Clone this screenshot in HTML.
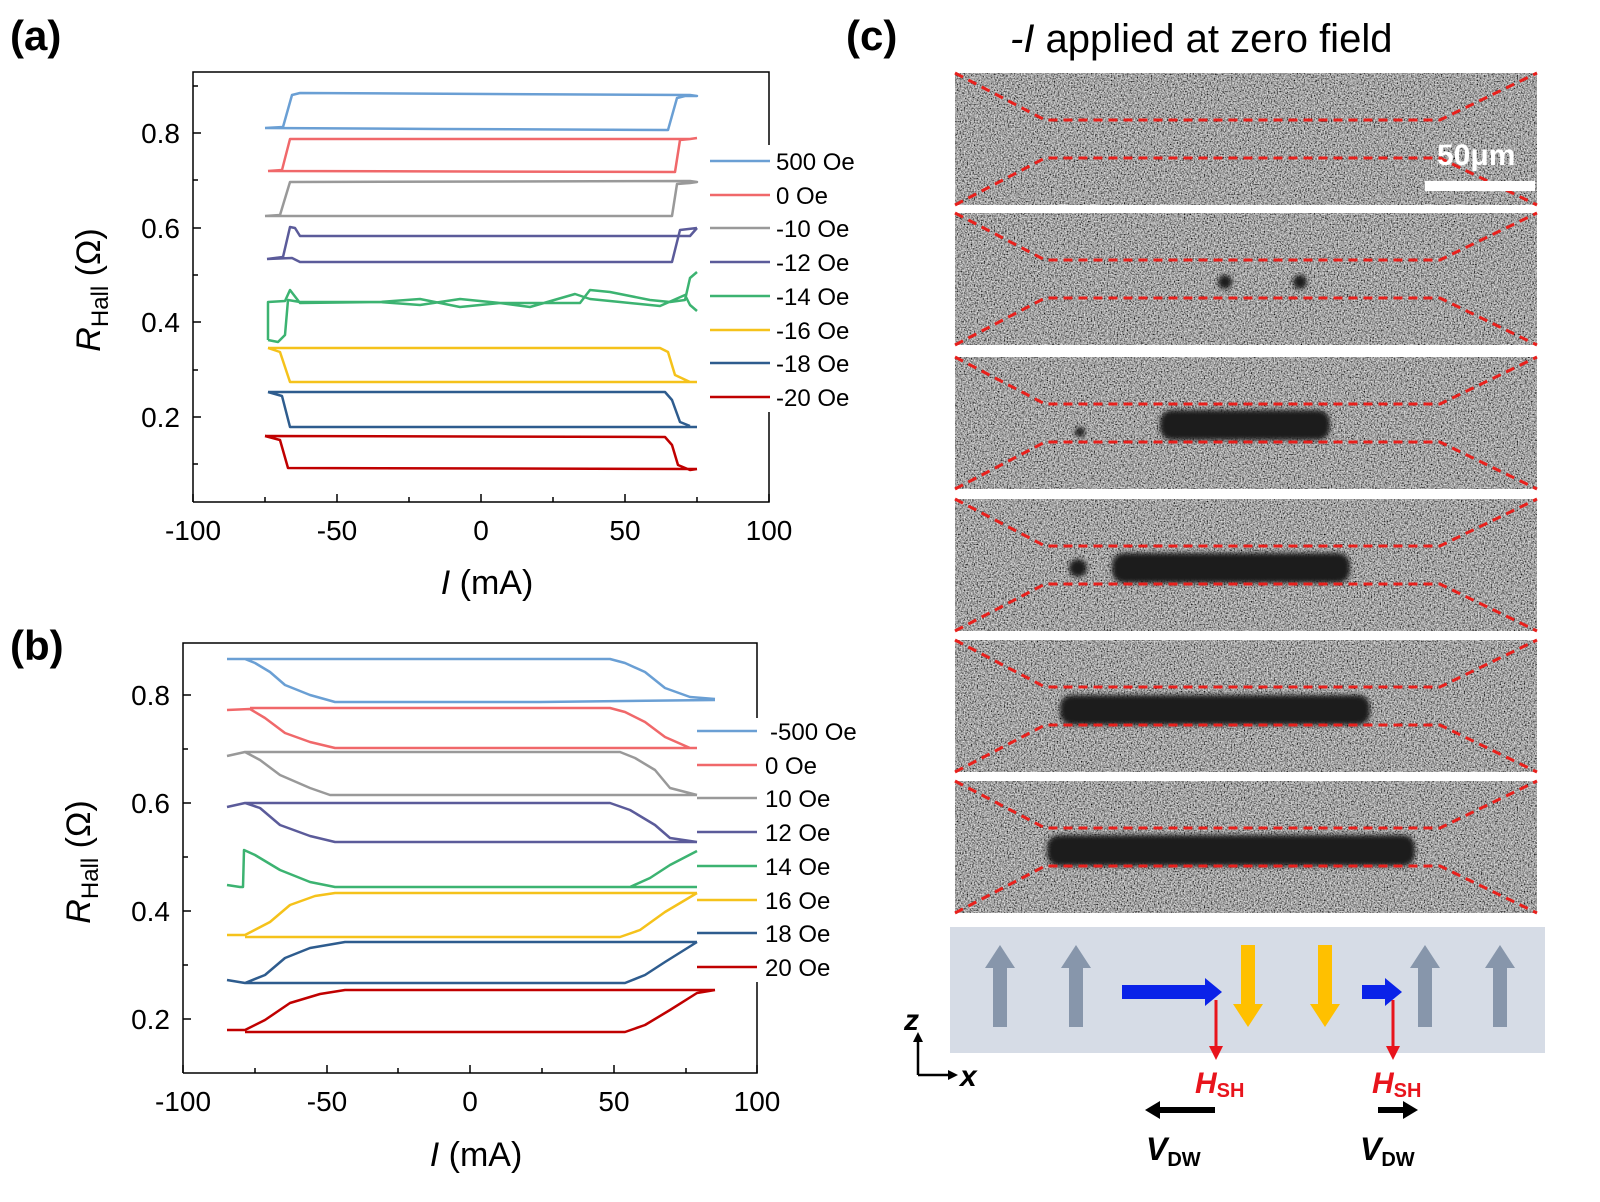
<!DOCTYPE html>
<html><head><meta charset="utf-8"><style>
html,body{margin:0;padding:0;background:#fff;}
svg{display:block;font-family:"Liberation Sans",Arial,sans-serif;}
</style></head><body>
<svg width="1600" height="1202" viewBox="0 0 1600 1202" xmlns="http://www.w3.org/2000/svg">
<defs>
<filter id="nz" x="0" y="0" width="100%" height="100%">
<feTurbulence type="fractalNoise" baseFrequency="0.7" numOctaves="2" seed="3"/>
<feColorMatrix type="matrix" values="1.4 0 0 0 -0.33  1.4 0 0 0 -0.33  1.4 0 0 0 -0.33  0 0 0 0 1"/>
</filter>
<filter id="bl"><feGaussianBlur stdDeviation="2.5"/></filter>
<g id="trap" fill="none" stroke="#e8201c" stroke-width="3" stroke-dasharray="9,6">
<path d="M0,0 L90,47 L485,47 L582,0 M0,132 L90,85 L485,85 L582,132"/>
</g>
</defs>

<text x="10" y="50" font-size="42" font-weight="bold">(a)</text>
<text x="10" y="660" font-size="42" font-weight="bold">(b)</text>
<text x="846" y="50" font-size="42" font-weight="bold">(c)</text>

<!-- ===== Panel A ===== -->
<g fill="none" stroke="#000" stroke-width="1.5">
<path d="M193,502 V72 H769 V145 M769,412 V502 H193"/>
<path d="M193,133 h8 M193,228 h8 M193,322 h8 M193,417 h8 M193,180 h5 M193,275 h5 M193,370 h5 M193,464 h5 M193,86 h5"/>
<path d="M193,502 v-8 M337,502 v-8 M481,502 v-8 M625,502 v-8 M769,502 v-8 M265,502 v-5 M409,502 v-5 M553,502 v-5 M697,502 v-5"/>
</g>
<g font-size="28" text-anchor="end">
<text x="180" y="143">0.8</text><text x="180" y="238">0.6</text><text x="180" y="332">0.4</text><text x="180" y="427">0.2</text>
</g>
<g font-size="28" text-anchor="middle">
<text x="193" y="540">-100</text><text x="337" y="540">-50</text><text x="481" y="540">0</text><text x="625" y="540">50</text><text x="769" y="540">100</text>
</g>
<text x="487" y="594" font-size="34" text-anchor="middle"><tspan font-style="italic">I</tspan> (mA)</text>
<text transform="translate(100,290) rotate(-90)" font-size="34" text-anchor="middle"><tspan font-style="italic">R</tspan><tspan font-size="24" dy="8">Hall</tspan><tspan dy="-8"> (Ω)</tspan></text>

<g fill="none" stroke-width="2.5" stroke-linejoin="round">
<path stroke="#6a9fd4" d="M265,128 L283,127 L292,95 L300,93 L690,95 L697,96 L685,96 L677,98 L668,130 L440,129 L265,128"/>
<path stroke="#f0686a" d="M268,171 L282,170 L290,139 L690,139 L697,138 M690,139 L680,140 L675,172 L268,171"/>
<path stroke="#999" d="M265,216 L280,215 L290,182 L690,181 L697,182 L690,183 L677,184 L672,216 L265,216"/>
<path stroke="#5b5b9a" d="M267,259 L283,257 L290,227 L295,228 L300,236 L690,236 L697,228 M697,228 L680,230 L672,262 L300,262 L292,258 L267,259"/>
<path stroke="#3cb371" d="M268,340 L268,302 L285,301 L290,290 L300,303 L380,302 L420,305 L460,299 L500,303 L580,303 L590,290 L610,292 L650,300 L670,302 L685,300 L690,278 L697,272 M268,340 L278,342 L285,335 L288,300 L300,302 L380,302 L420,299 L460,307 L500,303 L530,307 L575,294 L590,299 L620,302 L660,306 L685,295 L690,305 L697,311"/>
<path stroke="#f5c21b" d="M268,348 L280,352 L290,382 L697,382 M268,348 L660,348 L668,352 L675,375 L690,382"/>
<path stroke="#2e5c8e" d="M268,392 L282,396 L290,427 L697,427 M268,392 L665,392 L672,400 L680,422 L690,426"/>
<path stroke="#c00000" d="M265,436 L280,440 L288,468 L697,469 M265,436 L665,437 L672,445 L678,465 L690,470 L697,469"/>
</g>
<g stroke-width="2.5">
<line x1="710" y1="161" x2="770" y2="161" stroke="#6a9fd4"/>
<line x1="710" y1="195" x2="770" y2="195" stroke="#f0686a"/>
<line x1="710" y1="228" x2="770" y2="228" stroke="#999"/>
<line x1="710" y1="262" x2="770" y2="262" stroke="#5b5b9a"/>
<line x1="710" y1="296" x2="770" y2="296" stroke="#3cb371"/>
<line x1="710" y1="330" x2="770" y2="330" stroke="#f5c21b"/>
<line x1="710" y1="363" x2="770" y2="363" stroke="#2e5c8e"/>
<line x1="710" y1="397" x2="770" y2="397" stroke="#c00000"/>
</g>
<g font-size="24">
<text x="776" y="170">500 Oe</text><text x="776" y="204">0 Oe</text><text x="776" y="237">-10 Oe</text><text x="776" y="271">-12 Oe</text>
<text x="776" y="305">-14 Oe</text><text x="776" y="339">-16 Oe</text><text x="776" y="372">-18 Oe</text><text x="776" y="406">-20 Oe</text>
</g>

<!-- ===== Panel B ===== -->
<g fill="none" stroke="#000" stroke-width="1.5">
<path d="M183,1073 V643 H757 V718 M757,982 V1073 H183"/>
<path d="M183,695 h8 M183,803 h8 M183,911 h8 M183,1019 h8 M183,749 h5 M183,857 h5 M183,965 h5"/>
<path d="M183,1073 v-8 M327,1073 v-8 M470,1073 v-8 M614,1073 v-8 M757,1073 v-8 M255,1073 v-5 M398,1073 v-5 M542,1073 v-5 M686,1073 v-5"/>
</g>
<g font-size="28" text-anchor="end">
<text x="170" y="705">0.8</text><text x="170" y="813">0.6</text><text x="170" y="921">0.4</text><text x="170" y="1029">0.2</text>
</g>
<g font-size="28" text-anchor="middle">
<text x="183" y="1111">-100</text><text x="327" y="1111">-50</text><text x="470" y="1111">0</text><text x="614" y="1111">50</text><text x="757" y="1111">100</text>
</g>
<text x="476" y="1166" font-size="34" text-anchor="middle"><tspan font-style="italic">I</tspan> (mA)</text>
<text transform="translate(90,862) rotate(-90)" font-size="34" text-anchor="middle"><tspan font-style="italic">R</tspan><tspan font-size="24" dy="8">Hall</tspan><tspan dy="-8"> (Ω)</tspan></text>

<g fill="none" stroke-width="2.5" stroke-linejoin="round">
<path stroke="#6a9fd4" d="M227,659 L245,659 L255,663 L270,672 L285,685 L310,695 L335,702 L540,702 L715,700 M227,659 L610,659 L625,663 L645,672 L665,688 L690,697 L715,699"/>
<path stroke="#f0686a" d="M227,710 L250,709 L265,718 L285,733 L310,742 L335,748 L697,748 M250,708 L610,708 L625,712 L645,722 L665,737 L690,748"/>
<path stroke="#999" d="M227,756 L245,752 L260,760 L280,775 L310,788 L330,795 L697,795 M245,752 L620,752 L635,758 L655,770 L670,788 L697,795"/>
<path stroke="#5b5b9a" d="M227,807 L245,803 L260,808 L280,825 L310,836 L335,842 L697,842 M245,803 L610,803 L630,810 L655,825 L670,838 L697,842"/>
<path stroke="#3cb371" d="M227,885 L240,887 L243,887 L244,850 L255,855 L280,870 L310,882 L335,887 L697,887 M630,887 L650,878 L670,865 L697,851"/>
<path stroke="#f5c21b" d="M227,935 L245,935 L270,922 L290,905 L315,896 L335,893 L697,893 M245,937 L620,937 L640,930 L665,912 L697,893"/>
<path stroke="#2e5c8e" d="M227,980 L245,983 L265,975 L285,958 L310,948 L345,942 L697,942 M245,983 L625,983 L645,975 L665,962 L697,942"/>
<path stroke="#c00000" d="M227,1030 L245,1030 L265,1020 L290,1003 L320,994 L345,990 L715,990 M245,1032 L625,1032 L645,1025 L670,1010 L697,993 L715,990"/>
</g>
<g stroke-width="2.5">
<line x1="697" y1="731" x2="757" y2="731" stroke="#6a9fd4"/>
<line x1="697" y1="765" x2="757" y2="765" stroke="#f0686a"/>
<line x1="697" y1="798" x2="757" y2="798" stroke="#999"/>
<line x1="697" y1="832" x2="757" y2="832" stroke="#5b5b9a"/>
<line x1="697" y1="866" x2="757" y2="866" stroke="#3cb371"/>
<line x1="697" y1="900" x2="757" y2="900" stroke="#f5c21b"/>
<line x1="697" y1="933" x2="757" y2="933" stroke="#2e5c8e"/>
<line x1="697" y1="967" x2="757" y2="967" stroke="#c00000"/>
</g>
<g font-size="24">
<text x="770" y="740">-500 Oe</text><text x="765" y="774">0 Oe</text><text x="765" y="807">10 Oe</text><text x="765" y="841">12 Oe</text>
<text x="765" y="875">14 Oe</text><text x="765" y="909">16 Oe</text><text x="765" y="942">18 Oe</text><text x="765" y="976">20 Oe</text>
</g>

<!-- ===== Panel C ===== -->
<text x="1010" y="52" font-size="40"><tspan font-style="italic">-I</tspan> applied at zero field</text>

<g>
<rect x="955" y="73" width="582" height="132" filter="url(#nz)"/>
<rect x="955" y="213" width="582" height="132" filter="url(#nz)"/>
<rect x="955" y="357" width="582" height="132" filter="url(#nz)"/>
<rect x="955" y="499" width="582" height="132" filter="url(#nz)"/>
<rect x="955" y="640" width="582" height="132" filter="url(#nz)"/>
<rect x="955" y="781" width="582" height="132" filter="url(#nz)"/>
</g>
<g fill="#1e1e1e" filter="url(#bl)">
<circle cx="1225" cy="282" r="7"/><circle cx="1300" cy="282" r="7"/>
<rect x="1160" y="410" width="170" height="30" rx="12"/><circle cx="1080" cy="432" r="5"/>
<rect x="1112" y="553" width="238" height="30" rx="12"/><circle cx="1078" cy="568" r="9"/>
<rect x="1060" y="695" width="310" height="30" rx="12"/>
<rect x="1047" y="835" width="368" height="31" rx="12"/>
</g>
<use href="#trap" x="955" y="73"/>
<use href="#trap" x="955" y="213"/>
<use href="#trap" x="955" y="357"/>
<use href="#trap" x="955" y="499"/>
<use href="#trap" x="955" y="640"/>
<use href="#trap" x="955" y="781"/>
<rect x="1425" y="181" width="110" height="10" fill="#fff"/>
<text x="1437" y="165" font-size="30" font-weight="bold" fill="#fff">50μm</text>

<!-- schematic -->
<rect x="950" y="927" width="595" height="126" fill="#d6dce6"/>
<g fill="#8796ab">
<path d="M993,1027 V968 H985 L1000,945 L1015,968 H1007 V1027 Z"/>
<path d="M1069,1027 V968 H1061 L1076,945 L1091,968 H1083 V1027 Z"/>
<path d="M1418,1027 V968 H1410 L1425,945 L1440,968 H1432 V1027 Z"/>
<path d="M1493,1027 V968 H1485 L1500,945 L1515,968 H1507 V1027 Z"/>
</g>
<g fill="#ffc000">
<path d="M1241,945 V1004 H1233 L1248,1027 L1263,1004 H1255 V945 Z"/>
<path d="M1318,945 V1004 H1310 L1325,1027 L1340,1004 H1332 V945 Z"/>
</g>
<g fill="#0a22e8">
<path d="M1122,985 H1205 V978 L1222,992 L1205,1006 V999 H1122 Z"/>
<path d="M1362,985 H1385 V978 L1402,992 L1385,1006 V999 H1362 Z"/>
</g>
<g stroke="#e8141c" stroke-width="3" fill="#e8141c">
<line x1="1216" y1="1000" x2="1216" y2="1048"/><path d="M1209,1046 L1216,1060 L1223,1046 Z" stroke="none"/>
<line x1="1393" y1="1000" x2="1393" y2="1048"/><path d="M1386,1046 L1393,1060 L1400,1046 Z" stroke="none"/>
</g>
<g fill="#e8141c" font-weight="bold" font-style="italic">
<text x="1195" y="1093" font-size="30">H<tspan font-size="20" font-style="normal" dy="4">SH</tspan></text>
<text x="1372" y="1093" font-size="30">H<tspan font-size="20" font-style="normal" dy="4">SH</tspan></text>
</g>
<g fill="#000">
<path d="M1215,1107 H1160 V1101 L1145,1110 L1160,1119 V1113 H1215 Z"/>
<path d="M1378,1107 H1403 V1101 L1418,1110 L1403,1119 V1113 H1378 Z"/>
</g>
<g font-weight="bold" font-style="italic">
<text x="1146" y="1160" font-size="32">V<tspan font-size="20" font-style="normal" dy="6">DW</tspan></text>
<text x="1360" y="1160" font-size="32">V<tspan font-size="20" font-style="normal" dy="6">DW</tspan></text>
</g>
<g stroke="#000" stroke-width="2.5" fill="#000">
<path d="M918,1075 V1040 M918,1075 H950" fill="none"/>
<path d="M913,1042 L918,1032 L923,1042 Z" stroke="none"/>
<path d="M948,1070 L958,1075 L948,1080 Z" stroke="none"/>
</g>
<text x="904" y="1030" font-size="30" font-weight="bold" font-style="italic">z</text>
<text x="960" y="1086" font-size="30" font-weight="bold" font-style="italic">x</text>
</svg>
</body></html>
